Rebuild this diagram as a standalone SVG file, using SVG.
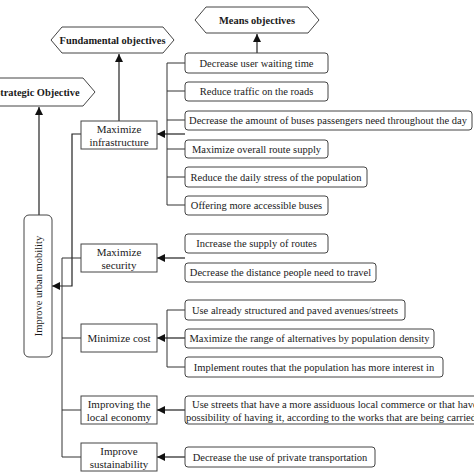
<svg xmlns="http://www.w3.org/2000/svg" width="474" height="474" viewBox="0 0 474 474">
<defs>
<marker id="ah" markerUnits="userSpaceOnUse" markerWidth="9" markerHeight="8" refX="8" refY="4" orient="auto">
<path d="M0,0 L8,4 L0,8 z" fill="#111"/>
</marker>
<style>
text{font-family:"Liberation Serif","Times New Roman",serif;font-size:10.5px;fill:#1a1a1a}
.h{font-weight:bold;text-anchor:middle;font-size:10.4px}
.c{text-anchor:middle}
.l{text-anchor:middle;font-size:11px}
.hex{fill:#fff;stroke:#444;stroke-width:1}
.rb{fill:#fff;stroke:#444;stroke-width:1}
.lb{fill:#fff;stroke:#444;stroke-width:1}
.ln{fill:none;stroke:#333;stroke-width:1}
.ar{fill:none;stroke:#222;stroke-width:1.2;marker-end:url(#ah)}
</style>
</defs>
<rect width="474" height="474" fill="#fff"/>

<g id="connectors">
<path class="ar" d="M119,121 V54"/>
<path class="ar" d="M257,53 V34"/>
<path class="ar" d="M39,215 V107"/>
<path class="ln" d="M167,63 V205 M167,63 H185 M167,91 H185 M167,120 H185 M167,149 H185 M167,177 H185 M167,205 H185"/>
<path class="ar" d="M185,134 H157"/>
<path class="ar" d="M185,258 H157"/>
<path class="ln" d="M167,310 V367 M167,310 H185 M167,367 H185"/>
<path class="ar" d="M185,338 H157"/>
<path class="ar" d="M185,410 H157"/>
<path class="ar" d="M185,457 H157"/>
<path class="ar" d="M81,134 H72 V286 H52"/>
<path class="ln" d="M81,258 H62 V457 H81 M62,338 H81 M62,410 H81"/>
</g>

<g id="strategic-objective">
<polygon class="hex" points="-20,92 -8,78 83,78 95,92 83,106 -8,106"/>
<text class="h" x="37" y="96">Strategic Objective</text>
</g>
<g id="fundamental-objectives">
<polygon class="hex" points="51,40 62,27 163,27 174,40 163,53 62,53"/>
<text class="h" x="112.5" y="44">Fundamental objectives</text>
</g>
<g id="means-objectives">
<polygon class="hex" points="195,20 206,7 308,7 319,20 308,33 206,33"/>
<text class="h" x="257" y="24">Means objectives</text>
</g>

<g id="improve-urban-mobility">
<rect class="rb" x="24" y="215" width="28" height="142" rx="5"/>
<text class="c" transform="translate(41.5,286) rotate(-90)">Improve urban mobility</text>
</g>

<g id="maximize-infrastructure">
<rect class="lb" x="81" y="121" width="76" height="28"/>
<text class="l" x="119" y="132.5">Maximize</text>
<text class="l" x="119" y="146">infrastructure</text>
</g>
<g id="maximize-security">
<rect class="lb" x="81" y="244" width="76" height="28"/>
<text class="l" x="119" y="255.5">Maximize</text>
<text class="l" x="119" y="269">security</text>
</g>
<g id="minimize-cost">
<rect class="lb" x="81" y="324" width="76" height="28"/>
<text class="l" x="119" y="341.5">Minimize cost</text>
</g>
<g id="improving-local-economy">
<rect class="lb" x="81" y="396" width="76" height="28"/>
<text class="l" x="119" y="407.5">Improving the</text>
<text class="l" x="119" y="421">local economy</text>
</g>
<g id="improve-sustainability">
<rect class="lb" x="81" y="443" width="76" height="28"/>
<text class="l" x="119" y="454.5">Improve</text>
<text class="l" x="119" y="468">sustainability</text>
</g>

<g id="m1"><rect class="rb" x="185" y="53" width="143" height="20" rx="3"/><text class="c" x="256.5" y="66.5">Decrease user waiting time</text></g>
<g id="m2"><rect class="rb" x="185" y="82" width="143" height="19" rx="3"/><text class="c" x="256.5" y="95">Reduce traffic on the roads</text></g>
<g id="m3"><rect class="rb" x="185" y="111" width="287" height="19" rx="3"/><text class="c" x="328" y="124">Decrease the amount of buses passengers need throughout the day</text></g>
<g id="m4"><rect class="rb" x="185" y="140" width="143" height="18" rx="3"/><text class="c" x="256.5" y="152.5">Maximize overall route supply</text></g>
<g id="m5"><rect class="rb" x="185" y="167" width="182" height="20" rx="3"/><text class="c" x="276" y="180.5">Reduce the daily stress of the population</text></g>
<g id="m6"><rect class="rb" x="185" y="196" width="143" height="19" rx="3"/><text class="c" x="256.5" y="209">Offering more accessible buses</text></g>
<g id="m7"><rect class="rb" x="185" y="234" width="143" height="19" rx="3"/><text class="c" x="256.5" y="247">Increase the supply of routes</text></g>
<g id="m8"><rect class="rb" x="185" y="263" width="191" height="19" rx="3"/><text class="c" x="280.5" y="276">Decrease the distance people need to travel</text></g>
<g id="m9"><rect class="rb" x="185" y="300" width="220" height="20" rx="3"/><text class="c" x="295" y="313.5">Use already structured and paved avenues/streets</text></g>
<g id="m10"><rect class="rb" x="185" y="329" width="249" height="19" rx="3"/><text class="c" x="309.5" y="342">Maximize the range of alternatives by population density</text></g>
<g id="m11"><rect class="rb" x="185" y="357" width="258" height="20" rx="3"/><text class="c" x="314" y="370.5">Implement routes that the population has more interest in</text></g>
<g id="m12"><rect class="rb" x="185" y="396" width="300" height="28" rx="3"/><text x="192" y="407.5" style="font-size:10.6px">Use streets that have a more assiduous local commerce or that have</text><text x="186" y="420.5" style="font-size:10.6px">possibility of having it, according to the works that are being carried</text></g>
<g id="m13"><rect class="rb" x="185" y="447" width="190" height="20" rx="3"/><text class="c" x="280" y="460.5">Decrease the use of private transportation</text></g>
</svg>
